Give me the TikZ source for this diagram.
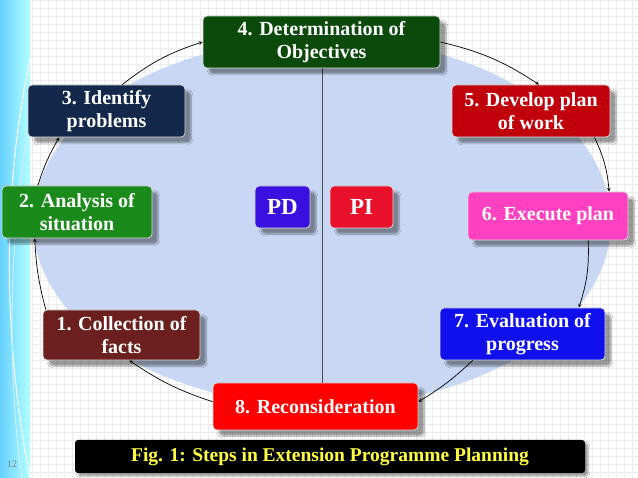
\documentclass[tikz,border=0pt]{standalone}
\usepackage{fontspec}
\setmainfont{Liberation Serif}
\usetikzlibrary{shadows.blur,calc}
\definecolor{cG}{HTML}{0B4A0B}\definecolor{cN}{HTML}{13284A}\definecolor{cR}{HTML}{C0000B}
\definecolor{cG2}{HTML}{1A8A1A}\definecolor{cM}{HTML}{FF40C0}\definecolor{cB}{HTML}{6B1F1F}
\definecolor{cBl}{HTML}{1010EE}\definecolor{cRed}{HTML}{FF0000}\definecolor{cPD}{HTML}{3A10E0}
\definecolor{cPI}{HTML}{E8102A}\definecolor{cEl}{HTML}{C8D8F4}\definecolor{cY}{HTML}{FFFF40}
\tikzset{stepbox/.style={draw=white!70!gray,line width=0.8pt,rounded corners=4pt,text=white,
  font=\bfseries\fontsize{20}{23}\selectfont,align=center,inner sep=0pt,
  blur shadow={shadow xshift=6pt,shadow yshift=-6pt,shadow blur steps=6}},
  conn/.style={-stealth,line width=0.7pt,black}}
\newcommand{\bx}[7]{\node[stepbox,fill=#2,minimum width=#5-#3,minimum height=#6-#4] (#1) at ({(#3+#5)/2},{-(#4+#6)/2}) {#7};}
\begin{document}
\begin{tikzpicture}[x=1pt,y=1pt]
\useasboundingbox (0,0) rectangle (638,-478);
\fill[white] (0,0) rectangle (638,-478);
\draw[gray!15,step=8,line width=0.3pt] (0,0) grid (638,-478);
\shade[left color=cyan!70!blue!60,right color=cyan!30] (0,0) rectangle (30,-478);
\draw[white,line width=1pt] (30,-60) .. controls (0,-200) and (5,-350) .. (30,-478);
\draw[white!80!cyan,line width=1pt] (30,-120) .. controls (5,-250) and (10,-400) .. (22,-478);
\fill[cEl] (322,-222) ellipse (289 and 184);
\draw[black!70,thin] (322,-40) -- (322,-395);
\bx{n4}{cG}{203}{16}{440}{68}{4. Determination of\\Objectives}
\bx{n3}{cN}{28}{85}{185}{137}{3. Identify\\problems}
\bx{n5}{cR}{452}{85}{610}{137}{5. Develop plan\\of work}
\bx{n2}{cG2}{2}{186}{152}{238}{2. Analysis of\\situation}
\bx{n6}{cM}{468}{192}{628}{240}{6. Execute plan}
\bx{n1}{cB}{43}{310}{200}{360}{1. Collection of\\facts}
\bx{n7}{cBl}{440}{308}{605}{360}{7. Evaluation of\\progress}
\bx{n8}{cRed}{213}{383}{418}{430}{8. Reconsideration}
\bx{pd}{cPD}{255}{186}{310}{228}{\fontsize{23}{25}\selectfont PD}
\bx{pi}{cPI}{330}{186}{393}{228}{\fontsize{23}{25}\selectfont PI}
\node[fill=black,rounded corners=3pt,minimum width=510,minimum height=33,text=cY,
  font=\bfseries\fontsize{19.5}{22}\selectfont,blur shadow={shadow xshift=3pt,shadow yshift=-3pt}] (cap) at (330,-456.5) {Fig. 1: Steps in Extension Programme Planning};
\node[text=gray,font=\fontsize{10}{11}\selectfont] (pg) at (12,-464) {12};
\draw[conn] ($(n1.north west)!0.02!(n1.north east)$) to[bend left=6] ($(n2.south west)!0.22!(n2.south east)$);
\draw[conn] ($(n2.north west)!0.24!(n2.north east)$) to[bend left=6] ($(n3.south west)!0.2!(n3.south east)$);
\draw[conn] ($(n3.north west)!0.6!(n3.north east)$) to[bend left=10] (n4.west);
\draw[conn] (n4.east) to[bend left=10] ($(n5.north west)!0.55!(n5.north east)$);
\draw[conn] ($(n5.south west)!0.9!(n5.south east)$) to[bend left=10] ($(n6.north west)!0.88!(n6.north east)$);
\draw[conn] ($(n6.south west)!0.75!(n6.south east)$) to[bend left=10] ($(n7.north west)!0.84!(n7.north east)$);
\draw[conn] ($(n7.south west)!0.2!(n7.south east)$) to[bend left=6] ($(n8.north east)!0.4!(n8.south east)$);
\draw[conn] ($(n8.north west)!0.4!(n8.south west)$) to[bend left=8] ($(n1.south west)!0.55!(n1.south east)$);
\end{tikzpicture}
\end{document}
